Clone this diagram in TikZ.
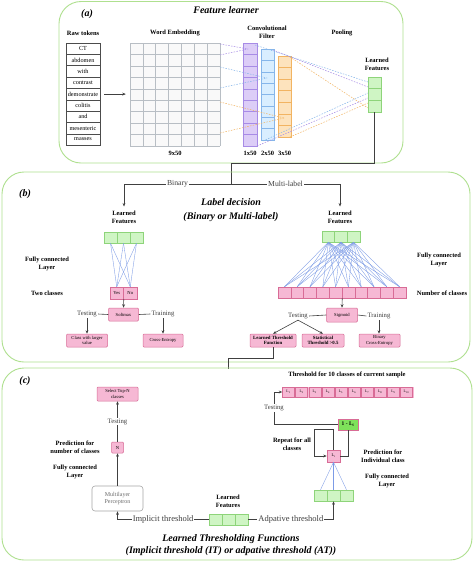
\documentclass[tikz,border=0pt]{standalone}
\usepackage{fontspec}
\setmainfont{Liberation Serif}
\usetikzlibrary{arrows.meta,calc}
\definecolor{panelg}{HTML}{AFE08F}
\definecolor{pinkf}{HTML}{F6B8D4}
\definecolor{pinkd}{HTML}{D86C96}
\definecolor{greenf}{HTML}{CFF5C4}
\definecolor{greend}{HTML}{8ED47A}
\definecolor{purf}{HTML}{DCCDF7}
\definecolor{purd}{HTML}{A78BE6}
\definecolor{bluef}{HTML}{D9EEFF}
\definecolor{blued}{HTML}{86B6EA}
\definecolor{oranf}{HTML}{FDE3BD}
\definecolor{orand}{HTML}{F2B462}
\definecolor{fcblue}{HTML}{7C9BE6}
\definecolor{gridc}{HTML}{B8BEC4}
\definecolor{brightg}{HTML}{7EE25A}
\definecolor{connc}{HTML}{404040}
\tikzset{
  panel/.style={draw=panelg, line width=0.9pt, rounded corners=22pt},
  ttl/.style={font=\fontsize{10}{14}\selectfont\bfseries\itshape, align=center, inner sep=0pt},
  lbl/.style={font=\fontsize{6.5}{8}\selectfont\bfseries, align=center, inner sep=0pt},
  txt/.style={font=\fontsize{6.7}{8}\selectfont, inner sep=1pt, fill=white, text=connc},
  bigtxt/.style={font=\fontsize{8.5}{10}\selectfont, inner sep=1pt, fill=white, text=connc},
  tok/.style={draw=black!70, line width=0.5pt, minimum width=34pt, minimum height=11.35pt, inner sep=0pt, font=\fontsize{6.2}{7}\selectfont},
  pbox/.style={draw=pinkd, fill=pinkf, line width=0.5pt, rounded corners=1pt, inner sep=0pt, font=\fontsize{4.6}{5.4}\selectfont, align=center},
  gcell/.style={draw=greend, fill=greenf, line width=0.5pt, inner sep=0pt, minimum width=13pt, minimum height=11pt},
  conn/.style={draw=connc, line width=0.6pt},
  arr/.style={conn, -{Stealth[length=3.5pt,width=2.8pt]}},
  fc/.style={draw=fcblue, line width=0.35pt},
  dsh/.style={line width=0.5pt, dash pattern=on 1.5pt off 1.3pt},
}
\begin{document}
\begin{tikzpicture}[x=1pt,y=-1pt]
\fill[white] (0,0) rectangle (474,563);
\useasboundingbox (0,0) rectangle (474,563);

%% ---------------- panel (a)
\draw[panel] (59,1.5) rectangle (403,163);
\node[ttl] (la) at (87,14) {(a)};
\node[ttl] (ta) at (226,10) {Feature learner};
\node[lbl] (rawl) at (83,33) {Raw tokens};
\foreach \t [count=\i] in {CT,abdomen,with,contrast,demonstrate,colitis,and,mesenteric,masses}
  \node[tok] (tok\i) at (83,{37.33+11.35*\i}) {\t};
\node[minimum width=90pt, minimum height=103pt, inner sep=0pt, fill=gray!5] (grid) at (175,94.5) {};
\foreach \k in {0,...,7} \draw[gridc, line width=0.5pt] ({130+\k*90/7},43) -- ({130+\k*90/7},146);
\foreach \k in {0,...,9} \draw[gridc, line width=0.5pt] (130,{43+\k*103/9}) -- (220,{43+\k*103/9});
\node[lbl] (wel) at (175,33) {Word Embedding};
\node[lbl] (wes) at (175,153) {9x50};
\draw[arr] ($(tok5.east)+(4,0)$) -- ($(tok5.east -| grid.west)+(-4,0)$);

% conv columns
\node[draw=purd, fill=purf, line width=0.5pt, minimum width=14pt, minimum height=103pt, inner sep=0pt] (conv1) at (250,94.5) {};
\foreach \k in {1,...,8} \draw[purd, line width=0.5pt] (243,{43+\k*103/9}) -- (257,{43+\k*103/9});
\node[draw=blued, fill=bluef, line width=0.5pt, minimum width=13pt, minimum height=91pt, inner sep=0pt] (conv2) at (267.5,94.5) {};
\foreach \k in {1,...,7} \draw[blued, line width=0.5pt] (261,{49+\k*91/8}) -- (274,{49+\k*91/8});
\node[draw=orand, fill=oranf, line width=0.5pt, minimum width=13pt, minimum height=81pt, inner sep=0pt] (conv3) at (284.5,96.5) {};
\foreach \k in {1,...,6} \draw[orand, line width=0.5pt] (278,{56+\k*81/7}) -- (291,{56+\k*81/7});
\node[lbl] (c1l) at (250,153) {1x50};
\node[lbl] (c2l) at (267.5,153) {2x50};
\node[lbl] (c3l) at (284.5,153) {3x50};
\node[lbl] (cfl) at (267,32) {Convolutional\\Filter};
\node[lbl] (pool) at (342,33) {Pooling};
\node[lbl] (lfa) at (377,64) {Learned\\Features};
\node[draw=greend, fill=greenf, line width=0.5pt, minimum width=13pt, minimum height=35pt, inner sep=0pt] (feat) at (374.5,94.5) {};
\foreach \k in {1,2} \draw[greend, line width=0.5pt] (368,{77+\k*35/3}) -- (381,{77+\k*35/3});

% dashed lines embedding -> filters
\draw[dsh, purd] (220,44) -- (248,49);
\draw[dsh, purd] (220,55) -- (248,49);
\draw[dsh, blued] (220,67) -- (267,78);
\draw[dsh, blued] (220,88) -- (267,78);
\draw[dsh, orand] (220,102) -- (284,118);
\draw[dsh, orand] (220,133) -- (284,118);
% dashed lines filters -> features
\draw[dsh, blued] (255,45) -- (368,82);
\draw[dsh, purd] (273,50) -- (368,87);
\draw[dsh, orand] (290,57) -- (368,108);
\draw[dsh, blued] (263,141) -- (368,93);
\draw[dsh, purd] (257,146) -- (368,98);
\draw[dsh, orand] (290,137) -- (368,103);

\coordinate (split) at (231,184);
\draw[conn] (feat.south) -- ++(0,51) -| (split);

%% ---------------- panel (b)
\draw[panel] (2,172) rectangle (470,362);
\node[ttl] (lb) at (25,194) {(b)};
\node[ttl] (tb) at (231,210) {Label decision\\(Binary or Multi-label)};

\node[lbl] (blf) at (124,217) {Learned\\Features};
\node[lbl] (rlf) at (340,217) {Learned\\Features};
\draw[arr] (split) -| node[pos=0.25, bigtxt, font=\fontsize{7.7}{9}\selectfont]{Binary} ([yshift=4pt]blf.north);
\draw[arr] (split) -| node[pos=0.25, bigtxt, font=\fontsize{7.7}{9}\selectfont]{Multi-label} ([yshift=4pt]rlf.north);

% left branch
\foreach \k in {1,2,3} \node[gcell] (bg\k) at ({97.5+13*\k},237.5) {};
\node[pbox, rounded corners=0pt, minimum width=13.5pt, minimum height=12pt] (yes) at (116.75,293) {Yes};
\node[pbox, rounded corners=0pt, minimum width=13.5pt, minimum height=12pt] (no) at (130.25,293) {No};
\foreach \k in {1,2,3} \foreach \t in {yes,no} \draw[fc] (bg\k.south) -- (\t.north);
\node[lbl] (bfc) at (47,264) {Fully connected\\Layer};
\node[lbl] (btc) at (47,293) {Two classes};
\node[pbox, minimum width=30pt, minimum height=13pt] (smx) at (123.5,314.5) {Softmax};
\draw[arr] (yes.south east) -- (smx.north);
\node[txt] (btest) at (87,314) {Testing};
\node[txt] (btrain) at (163,314) {Training};
\draw[conn] (smx.west) -- (btest.east);
\draw[conn] (smx.east) -- (btrain.west);
\node[pbox, minimum width=41pt, minimum height=13pt] (bcls) at (87,340.5) {Class with larger\\value};
\node[pbox, minimum width=40pt, minimum height=13pt] (bce) at (163,340.5) {Cross-Entropy};
\draw[arr] (btest.south) -- (bcls.north);
\draw[arr] (btrain.south) -- (bce.north);

% right branch
\foreach \k in {1,2,3} \node[gcell, minimum width=12.67pt] (rg\k) at ({315.67+12.67*\k},236.5) {};
\foreach \k in {1,...,10} \node[pbox, rounded corners=0pt, minimum width=12.8pt, minimum height=11pt] (nc\k) at ({271.6+12.8*\k},292.5) {};
\foreach \a in {1,2,3} \foreach \b in {1,...,10} \draw[fc] (rg\a.south) -- (nc\b.north);
\node[lbl] (rfc) at (439,260) {Fully connected\\Layer};
\node[lbl] (rnc) at (442,293) {Number of classes};
\node[pbox, minimum width=31pt, minimum height=14pt] (sig) at (342,315) {Sigmoid};
\draw[arr] (nc5.south east) -- (sig.north);
\node[txt] (rtest) at (298,316) {Testing};
\node[txt] (rtrain) at (379,316) {Training};
\draw[conn] (sig.west) -- (rtest.east);
\draw[conn] (sig.east) -- (rtrain.west);
\node[pbox, font=\fontsize{4.8}{5.6}\selectfont\bfseries, minimum width=46pt, minimum height=13pt] (ltf) at (273,340.5) {Learned Threshold\\Function};
\node[pbox, font=\fontsize{4.8}{5.6}\selectfont\bfseries, minimum width=42pt, minimum height=13pt] (stat) at (323,340.5) {Statistical\\Threshold >0.5};
\node[pbox, minimum width=41pt, minimum height=13pt] (rbce) at (379.5,340.5) {Binary\\Cross-Entropy};
\draw[arr] (rtest.south) -- (ltf.north);
\draw[arr] (rtest.south) -- (stat.north);
\draw[arr] (rtrain.south) -- (rtrain.south |- rbce.north);
\coordinate (cdrop) at (228,369);
\draw[conn] (ltf.south) -- ++(0,11) -| (cdrop);

%% ---------------- panel (c)
\draw[panel] (2,368) rectangle (472,560);
\node[ttl] (lc) at (25,381) {(c)};
\node[ttl, font=\fontsize{10}{12.5}\selectfont\bfseries\itshape] (tc) at (231,545) {Learned Thresholding Functions\\(Implicit threshold (IT) or adpative threshold (AT))};

\node[pbox, minimum width=41pt, minimum height=14pt] (topn) at (117.5,394) {Select Top-N\\classes};
\node[pbox, minimum width=12pt, minimum height=11pt] (nbox) at (117.5,447.5) {N};
\node[draw=gray!70, fill=white, line width=0.6pt, rounded corners=3pt, minimum width=51pt, minimum height=25pt, inner sep=0pt, align=center, text=gray!85!black, font=\fontsize{6}{7.5}\selectfont] (mlp) at (117.5,498.5) {Multilayer\\Perceptron};
\draw[arr] (nbox.north) -- node[txt]{Testing} (topn.south);
\draw[arr] (mlp.north) -- (nbox.south);
\node[lbl] (pnc) at (75,447) {Prediction for\\number of classes};
\node[lbl] (cfc) at (75,472) {Fully connected\\Layer};

\foreach \k in {1,2,3} \node[gcell] (cg\k) at ({202.5+13*\k},519.5) {};
\node[lbl] (clf) at (228,501) {Learned\\Features};
\draw[arr] (cg1.west) -| node[pos=0.25, bigtxt]{Implicit threshold} (mlp.south);

\foreach \k in {1,2,3} \node[gcell] (rcg\k) at ({307.5+13*\k},495.5) {};
\draw[arr] (cg3.east) -| node[pos=0.25, bigtxt]{Adpative threshold} (rcg2.south);
\node[pbox, rounded corners=0pt, minimum width=13pt, minimum height=12pt, font=\fontsize{4.2}{5}\selectfont] (li) at (333.5,456) {L\textsubscript{i}};
\foreach \k in {1,2,3} \draw[fc] (rcg\k.north) -- (li.south);
\node[lbl] (rcfc) at (387,481) {Fully connected\\Layer};
\node[lbl] (pic) at (383,456) {Prediction for\\Individual class};
\node[lbl] (rep) at (292,444) {Repeat for all\\classes};
\draw[arr] (li.north) -- ++(0,-20) -| ($(li.west)+(-12,0)$) -- (li.west);
\node[pbox, rounded corners=0pt, fill=brightg, font=\fontsize{5.5}{6.5}\selectfont\bfseries, minimum width=20pt, minimum height=11pt] (oneli) at (348,424.5) {1 - L\textsubscript{i}};
\draw[conn] (li.east) -| (oneli.south);

\fill[pinkf] (281.5,386.5) rectangle (413.5,397.5);
\foreach \k in {1,...,10} \node[pbox, rounded corners=0pt, minimum width=12pt, minimum height=10pt, font=\fontsize{3.8}{4.5}\selectfont] (th\k) at ({282+13.1*(\k-0.5)},392) {L\textsubscript{\k}};
\node[lbl] (thl) at (347,375) {Threshold for 10 classes of current sample};
\coordinate (tcorner) at (274,392);
\draw[arr] (oneli.west) -| node[pos=0.75, txt]{Testing} (tcorner) -- (th1.west);
\end{tikzpicture}
\end{document}
